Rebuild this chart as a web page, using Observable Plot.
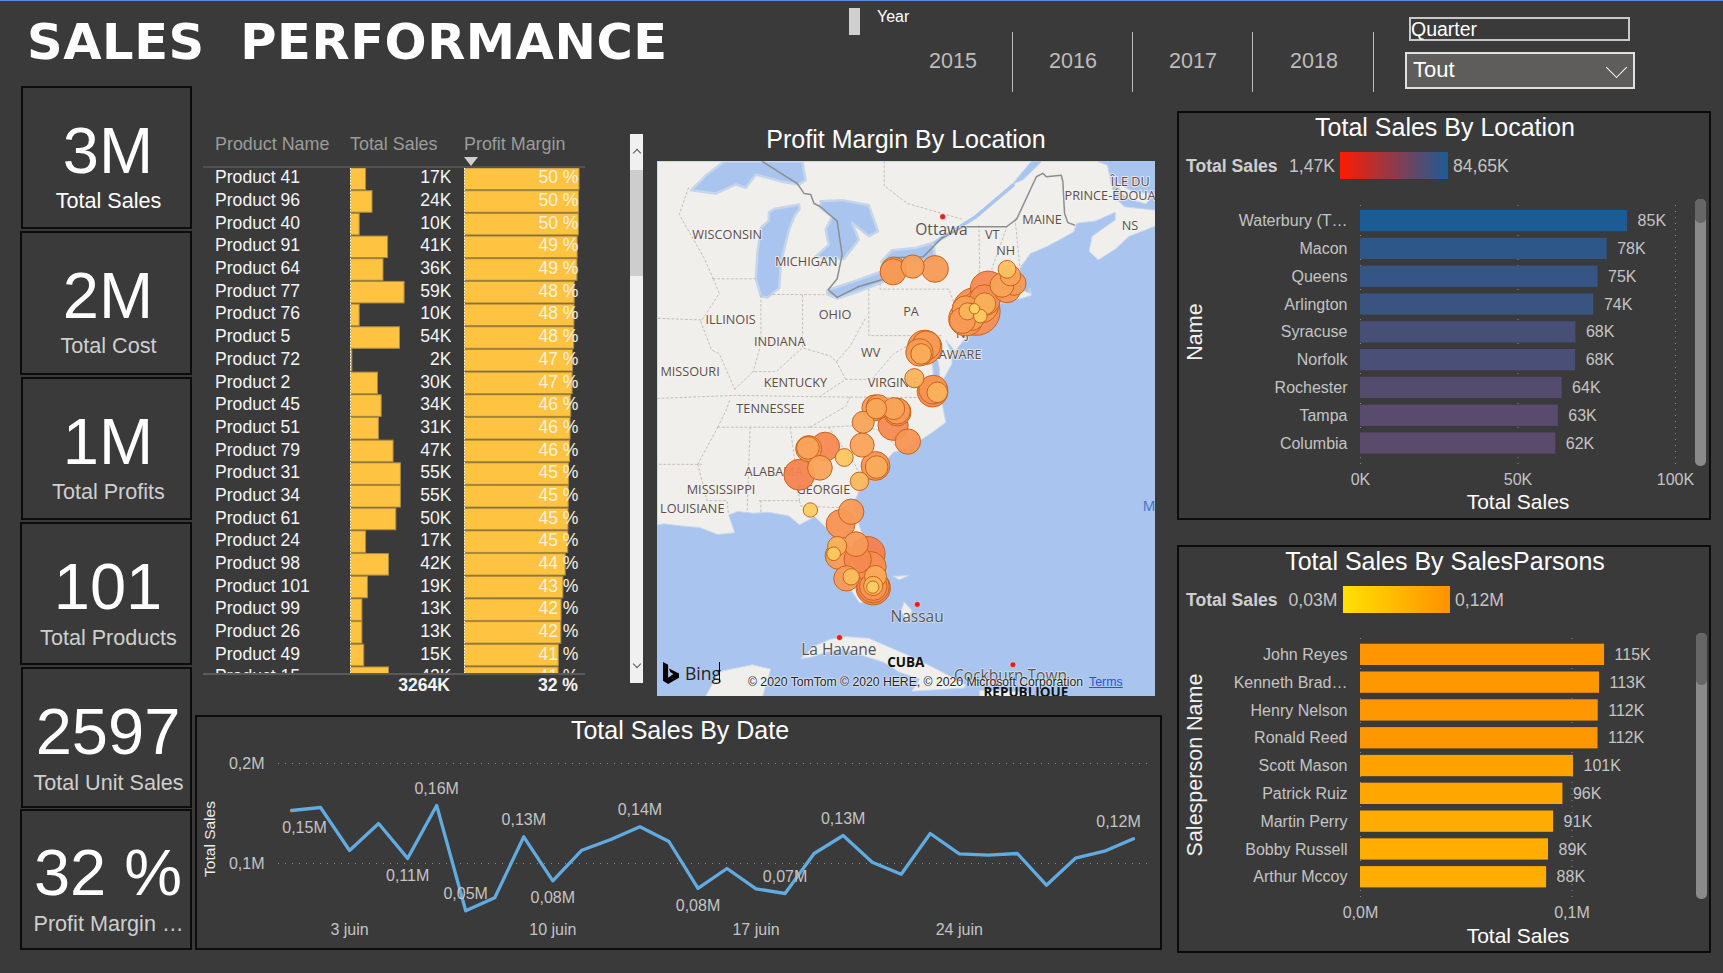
<!DOCTYPE html>
<html><head><meta charset="utf-8">
<script src="https://cdn.jsdelivr.net/npm/d3@7"></script>
<script src="https://cdn.jsdelivr.net/npm/@observablehq/plot@0.6"></script>
<style>
html,body{margin:0;padding:0;background:#3a3a3a;}
body{position:relative;width:1723px;height:973px;overflow:hidden;font-family:"Liberation Sans",Arial,sans-serif;}
.t{position:absolute;line-height:0;white-space:pre;}
.b{position:absolute;box-sizing:border-box;}
svg{position:absolute;}
</style></head><body>
<script>
// ---------- data ----------
const kpiValues=["3M","2M","1M","101","2597","32 %"];
const kpiLabels=["Total Sales","Total Cost","Total Profits","Total Products","Total Unit Sales","Profit Margin …"];
const years=["2015","2016","2017","2018"];
const productNames=["Product 41","Product 96","Product 40","Product 91","Product 64","Product 77","Product 76","Product 5","Product 72","Product 2","Product 45","Product 51","Product 79","Product 31","Product 34","Product 61","Product 24","Product 98","Product 101","Product 99","Product 26","Product 49","Product 15"];
const productSales=[17,24,10,41,36,59,10,54,2,30,34,31,47,55,55,50,17,42,19,13,13,15,42];
const productMargins=[50.0,49.8,49.7,49.2,49.1,47.9,47.8,47.7,47.2,47.0,46.4,46.1,45.9,45.4,45.3,45.2,45.1,44.0,43.0,42.2,42.1,41.0,40.9];
const locationNames=["Waterbury (T…","Macon","Queens","Arlington","Syracuse","Norfolk","Rochester","Tampa","Columbia"];
const locationSales=[84.8,78.3,75.4,74.1,68.4,68.3,64,62.8,62];
const personNames=["John Reyes","Kenneth Brad…","Henry Nelson","Ronald Reed","Scott Mason","Patrick Ruiz","Martin Perry","Bobby Russell","Arthur Mccoy"];
const personSales=[115.4,113,112.4,112.3,100.7,95.7,91.3,88.9,88];
const dayNumbers=[1,2,3,4,5,6,7,8,9,10,11,12,13,14,15,16,17,18,19,20,21,22,23,24,25,26,27,28,29,30];
const daySales=[.153,.156,.113,.14,.1051,.158,.0527,.0657,.1267,.0827,.1133,.124,.1367,.122,.0751,.095,.0747,.07,.11,.128,.1013,.0893,.13,.1097,.1083,.11,.0783,.1053,.1123,.1247];
const labelAbove=[6,7,9,13,18,20];
const labelBelow=[5,10,15];
const dateTicks=[3,10,17,24];
// map bubbles: longitude, latitude, sales (K), margin (%)
const bubbleLon=[-78.88,-78.92,-77.65,-76.20,-72.75,-71.52,-71.07,-71.30,-71.85,-71.52,-72.97,-73.53,-74.20,-73.20,-74.20,-73.86,-72.97,-74.09,-73.64,-73.26,-74.42,-76.87,-76.76,-77.21,-77.10,-77.54,-76.36,-76.31,-76.05,-80.10,-79.88,-80.01,-78.65,-78.88,-78.65,-78.92,-80.86,-77.96,-80.93,-83.33,-84.40,-84.45,-82.09,-83.67,-85.01,-80.06,-79.99,-81.10,-84.29,-81.64,-82.33,-80.55,-81.33,-82.44,-82.55,-82.78,-80.37,-81.95,-81.64,-80.21,-80.21,-80.21,-80.06,-80.21,-80.24,-81.22];
const bubbleLat=[42.92,42.83,43.08,42.97,42.01,42.01,42.28,42.65,42.19,42.95,41.47,40.92,40.56,41.20,41.01,40.65,41.29,40.92,41.05,40.69,40.47,39.13,39.23,38.88,38.80,37.56,36.87,36.97,36.83,36.02,36.08,35.98,35.79,35.98,35.85,35.10,35.26,34.23,34.04,33.96,33.85,33.89,33.37,32.81,32.43,32.91,32.85,32.07,30.48,30.38,29.69,28.00,28.55,27.89,28.44,28.00,27.24,26.58,26.67,26.03,26.10,26.10,26.69,26.14,26.07,27.67];
const bubbleSales=[25,25,20,26.4,47,27.8,21.3,15.6,21.3,11.7,35,85,43.4,43.4,27.8,27.8,17.8,10.8,3.9,6.9,25,43.4,30.6,27.8,15.6,13.6,35,30.6,15.6,25,21.3,15.6,27.8,17.8,25,33.6,17.8,23.7,21.3,30.6,25,18.9,11.7,22.5,35,30.6,18.9,12.6,7.6,23.7,30.6,43.4,22.5,27.8,13.6,6.9,35,23.7,10,43.4,38.3,27.8,17.8,13.6,5.6,27.8];
const bubbleMargin=[32.5,32.5,34,32.5,27.5,31,32.5,35,35,44,29,29,31,32.5,34,34,39,40,49,46,32.5,30,32.5,32.5,37.5,40,27.5,31,39,32.5,32.5,36,30,35,32.5,27.5,35,31,35,27.5,32.5,35,45,35,26,30,37.5,41,47.5,32.5,30,25,32.5,32.5,39,46,29,32.5,42.5,25,27.5,31,37.5,40,47.5,27.5];
// base map outlines, lon/lat
const mainland=[[-100,52],[-60,52],[-66,50],[-68.5,49],[-69.84,47.95],[-70.6,47.35],[-71.2,46.85],[-70.5,47.05],[-69.5,47.7],[-68.5,48.4],[-66,49.2],[-64.3,48.9],[-65.2,48.1],[-66.3,48.0],[-65,47.7],[-64.8,47],[-64.5,46.25],[-63.9,45.85],[-62.6,45.75],[-61.4,45.65],[-60,46.5],[-59.8,45.9],[-61,45.25],[-62.5,44.8],[-63.6,44.5],[-64.5,43.9],[-65.6,43.4],[-66.2,43.8],[-66,44.5],[-64.5,45.25],[-64.5,45.6],[-65.8,45.2],[-67,45.1],[-67.2,44.7],[-68.2,44.3],[-69,44],[-70,43.7],[-70.7,43],[-70.6,42.65],[-71,42.3],[-70.6,41.95],[-70,41.8],[-70.05,42.05],[-69.95,41.7],[-70.6,41.55],[-71.2,41.5],[-71.4,41.7],[-71.5,41.35],[-72.5,41.27],[-73.6,40.98],[-74,40.7],[-74,40.45],[-74.1,39.7],[-74.9,38.95],[-75.5,39.5],[-75.1,38.8],[-75.1,38.3],[-75.9,37.15],[-75.9,38],[-76.2,39.3],[-76.4,38.5],[-76.3,37.6],[-76.3,37.0],[-75.98,36.9],[-75.7,36.1],[-75.5,35.25],[-76.5,34.65],[-77.9,33.9],[-78.9,33.65],[-79.9,32.7],[-80.9,32.0],[-81.4,31.0],[-81.4,30.4],[-81.0,29.3],[-80.55,28.4],[-80.05,26.9],[-80.15,25.75],[-80.4,25.2],[-81.1,25.15],[-81.8,26.1],[-82.2,26.9],[-82.7,27.7],[-82.8,28.2],[-82.65,29],[-83.4,29.6],[-84,30.1],[-85,29.65],[-85.7,30.15],[-87,30.35],[-88,30.3],[-89,30.4],[-89.6,30.2],[-89.2,29.2],[-90.3,29.1],[-91.5,29.5],[-92.3,29.55],[-93.8,29.7],[-100,29]];
const longIsland=[[-74,40.6],[-73.7,40.88],[-72.4,41.1],[-72,41.05],[-72.5,40.8],[-73.9,40.55]];
const peiIsland=[[-64.4,46.95],[-63.3,46.5],[-62,46.45],[-62.5,45.98],[-63.6,46.2],[-64,46.4]];
const cubaIsland=[[-84.9,21.85],[-84,22.6],[-83,23],[-82,23.15],[-80.5,23.05],[-79,22.45],[-77.5,21.85],[-76,21.15],[-74.2,20.25],[-74.3,20.05],[-77.7,19.85],[-77.2,20.6],[-78.5,21],[-79.5,21.6],[-81.2,22.1],[-82.2,22.4],[-83.3,22.2],[-84.3,21.9]];
const hispaniola=[[-73.3,19.9],[-71.5,19.9],[-69.9,19.7],[-69.9,18.8],[-73.3,18.8]];
const yucatan=[[-92,18],[-90.2,21.05],[-88.05,21.46],[-86.86,21.2],[-87.4,19.5],[-87.5,18]];
const androsIsland=[[-78.2,25.2],[-77.7,24.7],[-77.9,24],[-78.4,24.6]];
const grandBahama=[[-78.9,26.7],[-77.9,26.75],[-78.5,26.5]];
const lakeSuperior=[[-92.03,46.59],[-91.06,47.26],[-89.88,47.86],[-89.5,48.6],[-85,48.6],[-84.81,47.86],[-84.6,47.04],[-85.03,46.85],[-86.1,46.97],[-87.83,47.29],[-88.48,46.7],[-89.12,46.85],[-90.42,46.45]];
const lakeMichigan=[[-86.97,45.6],[-86.64,45.75],[-85.03,45.95],[-85,45.75],[-85.35,45.4],[-85.68,44.8],[-86.2,43.27],[-86.32,42.05],[-87.08,41.6],[-87.5,41.65],[-87.83,42.5],[-87.72,43.8],[-87.5,44.9],[-87.0,45.2]];
const lakeHuron=[[-83.63,46.1],[-82.23,46.15],[-80.5,45.92],[-79.9,44.74],[-80.5,44.5],[-81.58,45.13],[-81.15,44.34],[-82.12,43.44],[-82.33,43.44],[-83.95,43.55],[-83.1,44.1],[-83.3,44.82],[-82.87,45.4],[-83.63,45.8]];
const lakeErie=[[-83.2,41.95],[-81.37,42.4],[-79.86,42.8],[-78.9,42.9],[-79.2,42.45],[-80.94,41.95],[-82.55,41.55],[-83.2,41.75]];
const lakeOntario=[[-79.7,43.3],[-79,43.85],[-77.5,43.95],[-76.3,44.2],[-76.2,43.5],[-77.5,43.25],[-79,43.25]];
const stLawrence=[[-76.2,44.2],[-75.76,44.42],[-73.6,45.37],[-71.13,46.82]];
const countryBorder=[[-87.4,47.86],[-85.14,46.89],[-84.7,46.45],[-84.27,46.4],[-84.05,46.0],[-83.63,45.85],[-82.55,45.2],[-82.23,43.63],[-82.55,42.5],[-83.13,41.97],[-82.55,41.6],[-81.15,42.13],[-79.65,42.45],[-79.0,43.0],[-79.0,43.5],[-76.95,43.55],[-75.76,44.42],[-74.36,44.94],[-71.56,44.94],[-70.9,45.29],[-69.62,47.19],[-69.2,47.34],[-68.97,47.19],[-68,47.26],[-67.9,46.97],[-67.79,45.55],[-67.58,45.13],[-67.15,45.02]];
const stateBorders=[
[[-90.6,42.5],[-87.8,42.5]],[[-92.2,46.7],[-92.8,45.5],[-91.2,43.5],[-90.6,42.5]],[[-90.6,42.5],[-90.2,41.8],[-91.4,40.4],[-90.7,39],[-90.2,38.8],[-89.2,37]],
[[-87.5,41.7],[-87.5,39.3],[-88,37.9]],[[-84.8,41.7],[-84.8,39.1]],[[-87,41.75],[-83.4,41.73]],[[-89.2,37],[-88,37.9],[-86.5,37.9],[-85.4,38.7],[-84.8,39.1],[-83,38.7],[-82.6,38.4],[-81.7,39.2],[-80.7,40.6]],
[[-80.5,42],[-80.5,40.6],[-80.5,39.72],[-75.8,39.72]],[[-79.76,42.27],[-79.76,42],[-75.3,42],[-75,41.4],[-74.7,41.36]],[[-94.6,36.5],[-83.7,36.6],[-75.9,36.55]],
[[-83.7,36.6],[-82,37.5],[-82.6,38.4]],[[-82,37.5],[-80.3,37.5],[-78.9,38.8],[-77.8,39.3]],[[-84.3,35],[-82,36.1],[-81.7,36.6]],[[-90.3,35],[-84.3,35]],[[-88.2,35],[-88.4,30.3]],[[-85.6,35],[-85.1,32],[-85,31]],
[[-87.6,31],[-85,31],[-84.9,30.7],[-82.2,30.6],[-81.45,30.7]],[[-87.5,31],[-87.5,30.3]],[[-84.3,35],[-83.1,35],[-81,35.1],[-79.7,34.8],[-78.6,33.85]],[[-83.1,35],[-81.4,33],[-80.9,32]],
[[-91.6,33],[-91,31],[-89.7,31],[-89.6,30.2]],[[-90.3,35],[-89.7,36],[-89.5,36.5]],[[-94.1,33],[-91.2,33]],[[-91.6,33],[-90.3,35]],[[-91.4,40.5],[-95,40.6]],
[[-73.35,45],[-73.3,43],[-73.5,42]],[[-71.5,45],[-72.5,43],[-72.5,42.7]],[[-71,45.3],[-70.7,43.1]],[[-73.3,42.75],[-71.3,42.7],[-70.9,42.88]],[[-73.5,42.05],[-71.8,42]],[[-71.8,42],[-71.85,41.3]],[[-73.5,42.05],[-73.65,41]],
[[-79.5,48],[-79.5,46.8],[-78,46],[-74.5,45.3]]];
const stateLabels=["WISCONSIN","MICHIGAN","ILLINOIS","OHIO","INDIANA","PA","WV","MISSOURI","KENTUCKY","VIRGINIE","TENNESSEE","ALABAMA","MISSISSIPPI","GEORGIE","LOUISIANE","VT","MAINE","NH","NJ","DELAWARE","ÎLE DU","PRINCE-ÉDOUARD","NS"];
const stateLon=[-89.69,-84.56,-89.47,-82.69,-86.28,-77.76,-80.37,-92.10,-85.26,-78.88,-86.88,-86.68,-90.09,-83.45,-91.96,-72.48,-69.25,-71.61,-74.42,-75.31,-63.52,-64.28,-63.54];
const stateLat=[44.58,43.30,40.49,40.74,39.41,40.87,38.84,37.89,37.34,37.34,35.96,32.6,31.59,31.59,30.54,44.57,45.24,43.81,39.78,38.74,46.98,46.35,44.98];
const cityLabels=["Ottawa","Nassau","La Havane","Cockburn Town"];
const cityLabelLon=[-75.78,-77.36,-82.44,-71.3];
const cityLabelLat=[44.77,24.31,22.34,20.78];
const capitalLon=[-75.7,-77.35,-82.4,-71.14];
const capitalLat=[45.4,25.06,23.1,21.46];
const countryLabels=["CUBA","RÉPUBLIQUE"];
const countryLon=[-78.10,-70.3];
const countryLat=[21.6,19.77];

// ---------- page helpers ----------
const FONT="'Liberation Sans',Arial,sans-serif";
function T(s,x,base,fs,color,o={}){
  const e=document.createElement("div");e.className="t";e.textContent=s;
  e.style.cssText=`left:${x}px;top:${base-.3465*fs}px;font-size:${fs}px;color:${color};font-family:${o.font||FONT};font-weight:${o.bold?"bold":"normal"};`+(o.css||"");
  const a=o.anchor||"start";
  const tx=a=="middle"?"translateX(-50%)":a=="end"?"translateX(-100%)":"";
  e.style.transform=tx+(o.rot?` rotate(${o.rot}deg)`:"");
  document.body.appendChild(e);return e;
}
function B(x,y,w,h,css){
  const e=document.createElement("div");e.className="b";
  e.style.cssText=`left:${x}px;top:${y}px;width:${w}px;height:${h}px;`+css;
  document.body.appendChild(e);return e;
}
function place(svg,x,y){svg.style.left=x+"px";svg.style.top=y+"px";document.body.appendChild(svg);}
const STYLE="background:transparent;font-family:'Liberation Sans',Arial,sans-serif;overflow:hidden;position:absolute;max-width:none;";

// ---------- top band ----------
B(0,0,1723,1,"background:#5b8de8;");
T("SALES  PERFORMANCE",27,59,49.5,"#fff",{bold:true,font:"'DejaVu Sans',sans-serif",css:"letter-spacing:.55px;"});
B(849,8,11,27,"background:#cfcfcf;");
T("Year",877,23,16,"#fff");
const yearCx=[953,1073,1193,1314],sepX=[1012,1132,1252,1373];
years.forEach((y,i)=>{T(y,yearCx[i],68,21.5,"#bdbdbd",{anchor:"middle"});B(sepX[i],32,1,60,"background:#bbb;");});
B(1409,17,221,24,"border:2px solid #c8c8c8;");
T("Quarter",1411,36,19.5,"#fff");
B(1405,52,230,37,"border:2px solid #e0e0e0;background:#5e5d5b;");
T("Tout",1413,78,22,"#fff");
B(1609,60,15,15,"border-right:1.5px solid #fff;border-bottom:1.5px solid #fff;transform:rotate(45deg) ;");

// ---------- KPI cards ----------
const cardY=[[86,229],[231,375],[377,520],[522,665],[667,808],[809,950]];
const cardX=[21,20,21,20,21,20];
const bigBase=[173.5,318.5,465,610,754.5,895.5],lblBase=[208,353,499,645,790,931];
kpiValues.forEach((v,i)=>{
  B(cardX[i],cardY[i][0],192-cardX[i],cardY[i][1]-cardY[i][0],"border:2px solid #0c0c0c;");
  T(v,108,bigBase[i],65,"#fff",{anchor:"middle"});
  T(kpiLabels[i],108.5,lblBase[i],21.6,i==0?"#fff":"#cfcfcf",{anchor:"middle"});
});

// ---------- product table ----------
const rows=productNames.map((name,i)=>({name,sales:productSales[i],margin:productMargins[i]}));
const rowY={type:"band",domain:productNames,range:[0,520.5],paddingInner:.05,paddingOuter:0,align:0,round:false,axis:null};
T("Product Name",215,150,17.9,"#9c9c9c");
T("Total Sales",350,150,17.9,"#9c9c9c");
T("Profit Margin",464,150,17.9,"#9c9c9c");
B(464,157,14,9,"background:#cfcfcf;clip-path:polygon(0 0,100% 0,50% 100%);");
B(203,166,382,2,"background:#515151;");
B(203,673,382,2,"background:#5a5a5a;");
place(Plot.plot({width:145,height:505,margin:0,style:STYLE,y:rowY,x:{axis:null},
  marks:[Plot.text(rows,{y:"name",text:"name",frameAnchor:"left",dx:11.5,dy:-1.5,fontSize:17.6,fill:"#f4f4f4"})]}),203,168);
place(Plot.plot({width:101,height:505,margin:0,style:STYLE,y:rowY,x:{domain:[0,60],range:[0,55],axis:null},
  marks:[
    Plot.barX(rows,{x:"sales",y:"name",fill:"#ffc342",stroke:"#ab8a40",strokeWidth:1}),
    Plot.ruleX([0],{stroke:"#fff",strokeDasharray:"1.5 1.5"}),
    Plot.text(rows,{y:"name",text:d=>d.sales+"K",frameAnchor:"right",dy:-1.5,fontSize:17.6,fill:"#f4f4f4"})
  ]}),350,168);
place(Plot.plot({width:116,height:505,margin:0,style:STYLE,y:rowY,x:{domain:[0,50],range:[0,115],axis:null},
  marks:[
    Plot.barX(rows,{x:"margin",y:"name",fill:"#ffc342",stroke:"#ab8a40",strokeWidth:1}),
    Plot.ruleX([0],{stroke:"#fff",strokeDasharray:"1.5 1.5"}),
    Plot.text(rows,{y:"name",text:d=>Math.round(d.margin)+" %",frameAnchor:"right",dx:-2,dy:-1.5,fontSize:17.6,fill:"#f7f0dc"})
  ]}),464,168);
T("3264K",450,691,17.6,"#f4f4f4",{anchor:"end",bold:true});
T("32 %",578,691,17.6,"#f4f4f4",{anchor:"end",bold:true});
// table scroll bar
B(630,134,13,549,"background:#f0f0f0;");
B(630,170,13,106,"background:#cdcdcd;");
B(633.5,150,6,6,"border-left:1.5px solid #555;border-top:1.5px solid #555;transform:rotate(45deg);");
B(633.5,661,6,6,"border-right:1.5px solid #555;border-bottom:1.5px solid #555;transform:rotate(45deg);");

// ---------- map ----------
T("Profit Margin By Location",906,148,25,"#fff",{anchor:"middle"});
const poly=r=>({type:"Polygon",coordinates:[[...r,r[0]]]});
const landShapes=[mainland,longIsland,peiIsland,cubaIsland,hispaniola,yucatan,androsIsland,grandBahama].map(poly);
const lakeShapes=[lakeSuperior,lakeMichigan,lakeHuron,lakeErie,lakeOntario].map(poly);
const bubbles=bubbleLon.map((lon,i)=>({lon,lat:bubbleLat[i],sales:bubbleSales[i],margin:bubbleMargin[i]}));
const states=stateLabels.map((t,i)=>({t,lon:stateLon[i],lat:stateLat[i]}));
const cities=cityLabels.map((t,i)=>({t,lon:cityLabelLon[i],lat:cityLabelLat[i]}));
const capitals=capitalLon.map((lon,i)=>({lon,lat:capitalLat[i]}));
const countries=countryLabels.map((t,i)=>({t,lon:countryLon[i],lat:countryLat[i]}));
const WATER="#a9c5ef",LAND="#f0efeb";
place(Plot.plot({width:498,height:535,margin:0,
  style:STYLE.replace("background:transparent","background:"+WATER),
  projection:{type:"mercator",domain:{type:"MultiPoint",coordinates:[[-94.16,47.86],[-61.94,19.53]]}},
  r:{domain:[0,85],range:[0,24]},
  color:{type:"linear",domain:[25,50],range:["#f5804f","#fcd765"],interpolate:"rgb"},
  marks:[
    Plot.geo(landShapes,{fill:LAND,stroke:"#c9d8ef",strokeWidth:1}),
    Plot.geo(lakeShapes,{fill:WATER,stroke:"#c5d5ea",strokeWidth:2.5}),
    Plot.geo([{type:"LineString",coordinates:stLawrence}],{stroke:WATER,strokeWidth:3.5,fill:"none"}),
    Plot.geo(stateBorders.map(c=>({type:"LineString",coordinates:c})),{stroke:"#c4c0b8",strokeWidth:1,strokeDasharray:"2 2.5",fill:"none"}),
    Plot.geo([{type:"LineString",coordinates:countryBorder}],{stroke:"#8b8f90",strokeWidth:1.5,fill:"none"}),
    Plot.text(states,{x:"lon",y:"lat",text:"t",fontSize:12.7,fill:"#5f4d49",fontFamily:"'Open Sans'",stroke:"#f4f3f0",strokeWidth:2,strokeOpacity:.75,paintOrder:"stroke"}),
    Plot.text(cities,{x:"lon",y:"lat",text:"t",fontSize:15.5,fill:"#555",fontFamily:"'Open Sans'",stroke:"#f4f3f0",strokeWidth:1.5,strokeOpacity:.6,paintOrder:"stroke"}),
    Plot.text(countries,{x:"lon",y:"lat",text:"t",fontSize:13.5,fontWeight:"bold",fill:"#111",fontFamily:"'Open Sans'"}),
    Plot.text(["Mer des Sargasses"],{x:()=>-62.72,y:()=>30.66,text:d=>d,textAnchor:"start",fontSize:14,fill:"#3c6fc4",fontFamily:"'Open Sans'"}),
    Plot.dot(capitals,{x:"lon",y:"lat",r:3,fill:"#e3211c",stroke:"#fff",strokeWidth:.5}),
    Plot.dot(bubbles,{x:"lon",y:"lat",r:"sales",fill:"margin",stroke:"#c8641c",strokeWidth:1,fillOpacity:.95})
  ]}),657,161);
T("Bing",685,679,17.5,"#222",{font:"'Open Sans',sans-serif"});
B(719,662,1,20,"background:#000;");
B(663,662,16,22,"background:#000;clip-path:polygon(0 0,32% 12%,32% 72%,65% 55%,45% 45%,38% 30%,100% 52%,100% 72%,32% 100%,0 85%);");
T("© 2020 TomTom © 2020 HERE, © 2020 Microsoft Corporation",748,686,12.2,"#222",{css:"text-shadow:0 0 2px #fff,0 0 2px #fff;"});
T("Terms",1089,686,12.4,"#2c55c8",{css:"text-decoration:underline;"});

// ---------- line chart ----------
B(195,715,967,235,"border:2px solid #0c0c0c;");
T("Total Sales By Date",680,739,25,"#fff",{anchor:"middle"});
T("Total Sales",210,839+.3465*15.5,15.5,"#ededed",{anchor:"middle",rot:-90,css:"transform-origin:center;"});
const comma=v=>v.toFixed(1).replace(".",",")+"M";
const commaLbl=v=>v.toFixed(2).replace(".",",")+"M";
const junes=dayNumbers.map((d,i)=>({date:new Date(Date.UTC(2018,5,d)),day:d,value:daySales[i]}));
const june=d=>new Date(Date.UTC(2018,5,d));
place(Plot.plot({width:967,height:235,marginLeft:83,marginRight:10,marginTop:48,marginBottom:29,style:STYLE,
  x:{type:"utc",domain:[june(1),june(30)],range:[96,938]},
  y:{domain:[0,.2],range:[248,48]},
  marks:[
    Plot.gridY([.1,.2],{stroke:"#8a8a8a",strokeOpacity:1,strokeDasharray:"1 6"}),
    Plot.axisY({ticks:[.1,.2],tickFormat:comma,tickSize:0,tickPadding:14,fontSize:16,fill:"#c4c4c4",label:null}),
    Plot.axisX({ticks:dateTicks.map(june),tickFormat:d=>d.getUTCDate()+" juin",tickSize:0,tickPadding:2,fontSize:16,fill:"#c4c4c4",label:null}),
    Plot.line(junes,{x:"date",y:"value",stroke:"#62abe0",strokeWidth:3.3}),
    Plot.text(junes.filter(d=>labelAbove.includes(d.day)),{x:"date",y:"value",text:d=>commaLbl(d.value),dy:-17,fontSize:16,fill:"#c4c4c4"}),
    Plot.text(junes.filter(d=>labelBelow.includes(d.day)),{x:"date",y:"value",text:d=>commaLbl(d.value),dy:17,fontSize:16,fill:"#c4c4c4"}),
    Plot.text(junes.filter(d=>d.day==1),{x:"date",y:"value",text:d=>commaLbl(d.value),dy:17,dx:13,fontSize:16,fill:"#c4c4c4"}),
    Plot.text(junes.filter(d=>d.day==30),{x:"date",y:"value",text:d=>commaLbl(d.value),dy:-17,dx:-15,fontSize:16,fill:"#c4c4c4"})
  ]}),195,715);

// ---------- ranked bar panels ----------
function barPanel(cfg){
  B(1177,cfg.boxTop,534,cfg.boxH,"border:2px solid #0c0c0c;");
  T(cfg.title,1445,cfg.top+24,25,"#fff",{anchor:"middle"});
  T("Total Sales",1186,cfg.top+60,17.6,"#cfcfcf",{bold:true});
  T(cfg.lo,cfg.loX,cfg.top+60,17.6,"#c4c4c4");
  B(cfg.gx,cfg.top+40,cfg.gw,27,`background:linear-gradient(to right,${cfg.colors[0]},${cfg.colors[1]});`);
  T(cfg.hi,cfg.hiX,cfg.top+60,17.6,"#c4c4c4");
  T(cfg.yTitle,1195,cfg.yC+.3465*21.5,21.5,"#f0f0f0",{anchor:"middle",rot:-90,css:"transform-origin:center;"});
  T("Total Sales",1518,cfg.top+397,21,"#fff",{anchor:"middle"});
  B(cfg.sx,cfg.sy,11,cfg.sh,"background:#8a8a8a;border-radius:5px;");
  B(cfg.sx,cfg.sy,11,cfg.th,"background:#666;border-radius:5px;");
  const data=cfg.names.map((name,i)=>({name,v:cfg.values[i]}));
  place(Plot.plot({width:534,height:407,marginLeft:183,marginRight:cfg.right,marginTop:cfg.mt,marginBottom:cfg.mb,style:STYLE,
    x:{domain:cfg.xDomain},
    y:{type:"band",domain:cfg.names,range:cfg.yRange,paddingInner:.234,paddingOuter:0,align:0,round:false},
    color:{type:"linear",domain:cfg.cDomain,range:cfg.colors,interpolate:"rgb"},
    marks:[
      Plot.gridX({ticks:cfg.ticks,stroke:"#8a8a8a",strokeOpacity:1,strokeDasharray:"1 5"}),
      Plot.axisX({ticks:cfg.ticks,tickFormat:cfg.fmt,tickSize:0,tickPadding:8,fontSize:16,fill:"#c4c4c4",label:null}),
      Plot.axisY({tickSize:0,tickPadding:13,fontSize:16,fill:"#c4c4c4",label:null}),
      Plot.barX(data,{x:"v",y:"name",fill:"v"}),
      Plot.text(data,{x:"v",y:"name",text:d=>Math.round(d.v)+"K",dx:10,textAnchor:"start",fontSize:16,fill:"#c4c4c4"})
    ]}),1177,cfg.top);
}
barPanel({top:112,boxTop:111,boxH:409,title:"Total Sales By Location",lo:"1,47K",hi:"84,65K",loX:1289,hiX:1453,gx:1340,gw:108,colors:["#ff1a00","#1c5c94"],cDomain:[1.47,84.65],
  yTitle:"Name",yC:332,names:locationNames,values:locationSales,xDomain:[0,100],ticks:[0,50,100],fmt:d=>d+"K",right:36,mt:93,mb:54,yRange:[98,341.7],sx:1695,sy:199,sh:267,th:24});
barPanel({top:546,boxTop:545,boxH:408,title:"Total Sales By SalesParsons",lo:"0,03M",hi:"0,12M",loX:1288.5,hiX:1455,gx:1343,gw:107,colors:["#ffe100","#ff9100"],cDomain:[30,120],
  yTitle:"Salesperson Name",yC:765,names:personNames,values:personSales,xDomain:[0,100],ticks:[0,100],fmt:d=>(d/1000).toFixed(1).replace(".",",")+"M",right:139.5,mt:92,mb:55,yRange:[97.7,341.4],sx:1696,sy:633,sh:266,th:52});
</script>
</body></html>
